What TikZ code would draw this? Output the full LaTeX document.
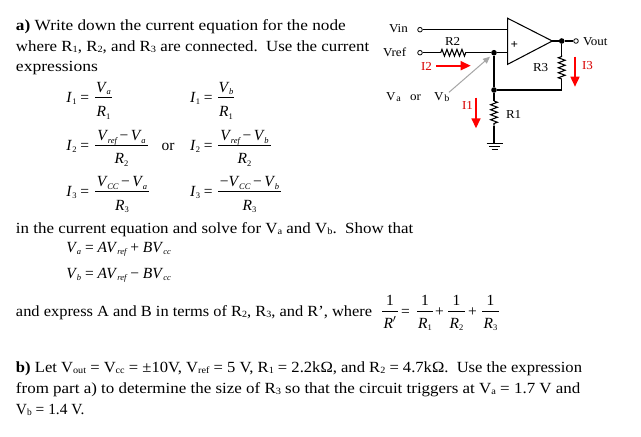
\documentclass[tikz,border=0pt]{standalone}
\usepackage{fontspec}
\usepackage{graphicx}
\usetikzlibrary{decorations.pathmorphing,arrows.meta}
\setmainfont[FakeStretch=1.07]{Liberation Serif}
\newfontfamily\eqf{Liberation Serif}
\newcounter{tn}
\newcommand\Sb[1]{\raisebox{-1.8pt}{\fontsize{9.5}{9.5}\selectfont #1}}
\newcommand\Ss[1]{\raisebox{-2.6pt}{\fontsize{8.5}{8.5}\selectfont\itshape #1}}
\newcommand\Vv[1]{\textit{V}\kern-.5pt\Ss{#1}}
\newcommand\Rr[1]{\textit{R}\Ss{\upshape #1}}
\newcommand\Mn{\,\raisebox{0pt}{−}\,}
% text line: x, y(baseline), horizontal scale, text
\newcommand\Tl[4]{\stepcounter{tn}\node[txt] (t\thetn) at (#1,#2) {\scalebox{#3}[1]{#4}};}
\newcommand\Eq[3]{\stepcounter{tn}\node[eqn] (t\thetn) at (#1,#2) {#3};}
\newcommand\Lb[3]{\stepcounter{tn}\node[lbl] (t\thetn) at (#1,#2) {#3};}
% fraction: x1, x2, bar y, num baseline, den baseline, num, den
\newcommand\Fr[7]{\draw[fracbar] (#1,#3) -- (#2,#3);
 \stepcounter{tn}\node[eqc] (t\thetn) at ({(#1+#2)/2},#4) {#6};
 \stepcounter{tn}\node[eqc] (t\thetn) at ({(#1+#2)/2},#5) {#7};}
\tikzset{
 txt/.style={anchor=base west,inner sep=0pt,outer sep=0pt,font=\fontsize{15.5}{15.5}\selectfont},
 eqn/.style={anchor=base west,inner sep=0pt,outer sep=0pt,font=\eqf\fontsize{15.5}{15.5}\selectfont},
 eqc/.style={eqn,anchor=base},
 lbl/.style={anchor=base west,inner sep=0pt,outer sep=0pt,font=\fontsize{12.2}{12.2}\selectfont},
 redl/.style={lbl,text=red!85!black},
 fracbar/.style={line width=.7pt},
 wire/.style={line width=1.05pt},
 res/.style={wire,decorate,decoration={zigzag,segment length=5pt,amplitude=3.4pt}},
 term/.style={circle,draw,fill=white,line width=.8pt,minimum size=4.6pt,inner sep=0pt},
 dotn/.style={circle,fill=black,minimum size=5.6pt,inner sep=0pt},
 redarr/.style={red,line width=1.6pt,-{Triangle[length=10pt,width=9pt]}},
 grayarr/.style={gray!70,line width=1pt,-{Triangle[length=7pt,width=6pt]}},
}
\begin{document}
\begin{tikzpicture}[x=1pt,y=-1pt]
\useasboundingbox (0,0) rectangle (641,437);
\fill[white] (0,0) rectangle (641,437);
% body text
\Tl{16}{30}{1.04}{\textbf{a)} Write down the current equation for the node}
\Tl{16}{51}{1.017}{where R\Sb{1}, R\Sb{2}, and R\Sb{3} are connected.\ \ Use the current}
\Tl{16}{71}{1.06}{expressions}
\Tl{16}{233}{1.02}{in the current equation and solve for V\Sb{a} and V\Sb{b}.\ \ Show that}
\Tl{16}{316}{.99}{and express A and B in terms of R\Sb{2}, R\Sb{3}, and R\symbol{39}, where}
\Tl{16}{372}{1}{\textbf{b)} Let V\Sb{out} = V\Sb{cc} = ±10V, V\Sb{ref} = 5 V, R\Sb{1} = 2.2kΩ, and R\Sb{2} = 4.7kΩ.\ \ Use the expression}
\Tl{16}{393}{1.022}{from part a) to determine the size of R\Sb{3} so that the circuit triggers at V\Sb{a} = 1.7 V and}
\Tl{16}{414}{.93}{V\Sb{b} = 1.4 V.}
% left equations
\Eq{66.5}{102}{\textit{I}\Ss{\upshape 1} =}
\Fr{95}{112}{97.7}{92}{116.5}{\Vv{a}}{\Rr{1}}
\Eq{190}{102}{\textit{I}\Ss{\upshape 1} =}
\Fr{218}{234}{97.7}{92}{116.5}{\Vv{b}}{\Rr{1}}
\Eq{66.5}{150}{\textit{I}\Ss{\upshape 2} =}
\Fr{95}{148}{145.7}{140.5}{163.5}{\Vv{ref}\Mn\Vv{a}}{\Rr{2}}
\Eq{161.5}{150}{or}
\Eq{190}{150}{\textit{I}\Ss{\upshape 2} =}
\Fr{218}{271}{145.7}{140.5}{163.5}{\Vv{ref}\Mn\Vv{b}}{\Rr{2}}
\Eq{66.5}{196}{\textit{I}\Ss{\upshape 3} =}
\Fr{95}{149}{191.7}{186.5}{210}{\Vv{CC}\Mn\Vv{a}}{\Rr{3}}
\Eq{190}{196}{\textit{I}\Ss{\upshape 3} =}
\Fr{218}{281}{191.7}{186.5}{210}{−\Vv{CC}\Mn\Vv{b}}{\Rr{3}}
\Eq{66.5}{252}{\Vv{a} = \textit{AV}\Ss{ref} + \textit{BV}\Ss{cc}}
\Eq{66.5}{278}{\Vv{b} = \textit{AV}\Ss{ref} − \textit{BV}\Ss{cc}}
% 1/R'
\Fr{382}{398}{311.7}{305}{328}{1}{\textit{R}$'$}
\Eq{401}{316}{=}
\Fr{417}{433}{311.7}{305}{328}{1}{\Rr{1}}
\Eq{435}{316}{+}
\Fr{448}{465}{311.7}{305}{328}{1}{\Rr{2}}
\Eq{468}{316}{+}
\Fr{482}{499}{311.7}{305}{328}{1}{\Rr{3}}
% circuit
\coordinate (oa1) at (507.7,18.3);
\coordinate (oa2) at (507.7,64.3);
\coordinate (oaout) at (552.3,41);
\coordinate (oaneg) at (507.7,29.7);
\coordinate (oapos) at (507.7,52.7);
\node[term] (vin) at (420,29.7) {};
\node[term] (vref) at (420,52.7) {};
\node[term] (vout) at (576,41) {};
\node[dotn] (nplus) at (494,52.7) {};
\node[dotn] (nfb) at (494,90) {};
\node[dotn] (nout) at (561.7,41) {};
\coordinate (r2a) at (440.7,52.7);
\coordinate (r2b) at (466,52.7);
\coordinate (r3a) at (561.7,55);
\coordinate (r3b) at (561.7,79);
\coordinate (r3c) at (561.7,90);
\coordinate (r1a) at (494,101);
\coordinate (r1b) at (494,125.7);
\coordinate (gnd) at (494,143.3);
\coordinate (g1a) at (486.5,143.3);
\coordinate (g1b) at (502.5,143.3);
\coordinate (g2a) at (489,146.5);
\coordinate (g2b) at (500,146.5);
\coordinate (g3a) at (491.5,149.3);
\coordinate (g3b) at (497.5,149.3);
\draw[wire] (oa1) -- (oa2) -- (oaout) -- cycle;
\draw[wire] (vin) -- (oaneg);
\draw[wire] (vref) -- (r2a);
\draw[res] (r2a) -- (r2b);
\draw[wire] (r2b) -- (nplus) -- (oapos);
\draw[wire] (nplus) -- (nfb) -- (r3c) -- (r3b);
\draw[res] (r3b) -- (r3a);
\draw[wire] (r3a) -- (nout);
\draw[wire] (oaout) -- (nout) -- (vout);
\draw[wire] (nfb) -- (r1a);
\draw[res] (r1a) -- (r1b);
\draw[wire] (r1b) -- (gnd);
\draw[wire] (g1a) -- (g1b);
\draw[line width=.8pt] (g2a) -- (g2b);
\draw[line width=.8pt] (g3a) -- (g3b);
\coordinate (gs) at (449,92.3);
\coordinate (ge) at (490,56.7);
\draw[grayarr] (gs) -- (ge);
\coordinate (i2s) at (436,65.7);
\coordinate (i2e) at (470.7,65.7);
\coordinate (i1s) at (476,97.7);
\coordinate (i1e) at (476,128.3);
\coordinate (i3s) at (575,56.7);
\coordinate (i3e) at (575,86.7);
\draw[redarr] (i2s) -- (i2e);
\draw[redarr] (i1s) -- (i1e);
\draw[redarr] (i3s) -- (i3e);
\Lb{389}{32.5}{Vin}
\Lb{383}{56}{Vref}
\Lb{445}{45}{R2}
\Lb{533}{71}{R3}
\Lb{506}{118}{R1}
\Lb{583}{45}{Vout}
\Lb{510.5}{48}{\textbf{+}}
\node[redl] (li2) at (421,70) {I2};
\node[redl] (li1) at (462,109) {I1};
\node[redl] (li3) at (582,69) {I3};
\Lb{386}{100}{V\kern1pt\Sb{a}}
\Lb{410}{100}{or}
\Lb{434}{100}{V\kern1pt\Sb{b}}
\end{tikzpicture}
\end{document}
